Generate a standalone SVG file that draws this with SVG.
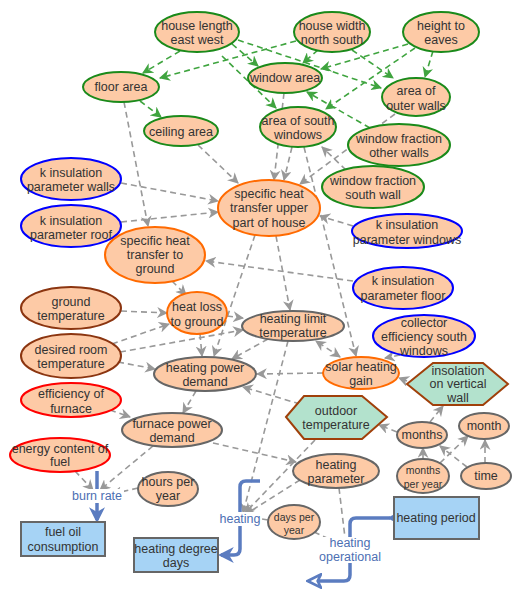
<svg xmlns="http://www.w3.org/2000/svg" width="520" height="600" viewBox="0 0 520 600">
<defs>
<style>
text{font-family:"Comic Sans MS","Liberation Sans",sans-serif;font-size:12.5px;fill:#333;text-anchor:middle}
.sm{font-size:10.5px}
.n{fill:#fdcaa6;stroke-width:2}
.g{stroke:#1a8a1a}
.b{stroke:#0000ff}
.o{stroke:#ff6a00}
.r{stroke:#ff0000}
.br{stroke:#8b3510}
.gr{stroke:#666}
.hex{fill:#b3e2cd;stroke:#a0400a;stroke-width:2}
.st{fill:#a6d3f5;stroke:#666;stroke-width:2}
.lg{stroke:#999;stroke-width:1.6;stroke-dasharray:6 4;fill:none;marker-end:url(#ag)}
.lgr{stroke:#3fa43f;stroke-width:1.6;stroke-dasharray:6 4;fill:none;marker-end:url(#agr)}
.fl{stroke:#5b7cc0;stroke-width:3.5;fill:none}
.fll{fill:#4d6fb3}
</style>
<marker id="ag" viewBox="0 0 10 10" refX="9" refY="5" markerWidth="11" markerHeight="11" markerUnits="userSpaceOnUse" orient="auto-start-reverse"><path d="M0,0 L10,5 L0,10 L3,5 z" fill="#999"/></marker>
<marker id="agr" viewBox="0 0 10 10" refX="9" refY="5" markerWidth="11" markerHeight="11" markerUnits="userSpaceOnUse" orient="auto"><path d="M0,0 L10,5 L0,10 L3,5 z" fill="#3fa43f"/></marker>
<marker id="af" viewBox="0 0 10 10" refX="8" refY="5" markerWidth="16" markerHeight="16" markerUnits="userSpaceOnUse" orient="auto"><path d="M0,0 L10,5 L0,10 L3,5 z" fill="#5b7cc0"/></marker>
<marker id="afo" viewBox="0 0 12 12" refX="10" refY="6" markerWidth="16" markerHeight="16" markerUnits="userSpaceOnUse" orient="auto"><path d="M1,1 L11,6 L1,11 L3.5,6 z" fill="#fff" stroke="#5b7cc0" stroke-width="2"/></marker>
</defs>
<rect width="520" height="600" fill="#fff"/>

<g id="connectors">
<line class="lgr" x1="180" y1="51" x2="143" y2="73"/>
<line class="lgr" x1="232" y1="44" x2="258" y2="66"/>
<line class="lgr" x1="222" y1="56" x2="276" y2="108"/>
<line class="lgr" x1="238" y1="40" x2="381" y2="88"/>
<line class="lgr" x1="296" y1="41" x2="160" y2="78"/>
<line class="lgr" x1="318" y1="50" x2="303" y2="63"/>
<line class="lgr" x1="352" y1="50" x2="393" y2="78"/>
<line class="lgr" x1="408" y1="44" x2="321" y2="69"/>
<line class="lgr" x1="433" y1="51" x2="425" y2="77"/>
<line class="lgr" x1="415" y1="48" x2="326" y2="109"/>
<line class="lgr" x1="140" y1="101" x2="161" y2="117"/>
<line class="lgr" x1="370" y1="128" x2="307" y2="92"/>

<line class="lg" x1="124" y1="102" x2="148" y2="226"/>
<line class="lg" x1="198" y1="145" x2="238" y2="183"/>
<line class="lg" x1="121" y1="183" x2="218" y2="201"/>
<line class="lg" x1="121" y1="222" x2="218" y2="212"/>
<line class="lg" x1="284" y1="93" x2="274" y2="180"/>
<line class="lg" x1="292" y1="147" x2="284" y2="180"/>
<line class="lg" x1="395" y1="114" x2="300" y2="184"/>
<line class="lg" x1="346" y1="170" x2="322" y2="147"/>
<line class="lg" x1="304" y1="147" x2="356" y2="356"/>
<line class="lg" x1="353" y1="226" x2="320" y2="216"/>
<line class="lg" x1="353" y1="281" x2="206" y2="261"/>
<line class="lg" x1="276" y1="236" x2="290" y2="310"/>
<line class="lg" x1="255" y1="235" x2="214" y2="356"/>
<line class="lg" x1="172" y1="281" x2="186" y2="295"/>
<line class="lg" x1="121" y1="311" x2="167" y2="313"/>
<line class="lg" x1="112" y1="344" x2="169" y2="324"/>
<line class="lg" x1="120" y1="352" x2="243" y2="330"/>
<line class="lg" x1="118" y1="362" x2="155" y2="369"/>
<line class="lg" x1="227" y1="316" x2="243" y2="318"/>
<line class="lg" x1="200" y1="334" x2="202" y2="356"/>
<line class="lg" x1="268" y1="339" x2="232" y2="359"/>
<line class="lg" x1="340" y1="357" x2="316" y2="341" style="marker-start:url(#ag)"/>
<line class="lg" x1="323" y1="373" x2="257" y2="374"/>
<line class="lg" x1="400" y1="355" x2="385" y2="358"/>
<line class="lg" x1="407" y1="381" x2="399" y2="378"/>
<line class="lg" x1="300" y1="404" x2="243" y2="387"/>
<line class="lg" x1="196" y1="391" x2="183" y2="413"/>
<line class="lg" x1="110" y1="410" x2="130" y2="417"/>
<line class="lg" x1="213" y1="443" x2="296" y2="462"/>
<line class="lg" x1="153" y1="446" x2="100" y2="490"/>
<line class="lg" x1="75" y1="471" x2="93" y2="490"/>
<line class="lg" x1="138" y1="488" x2="112" y2="494"/>
<line class="lg" x1="288" y1="341" x2="243" y2="513"/>
<line class="lg" x1="315" y1="440" x2="245" y2="513"/>
<line class="lg" x1="300" y1="480" x2="246" y2="514"/>
<line class="lg" x1="268" y1="520" x2="250" y2="517"/>
<line class="lg" x1="339" y1="488" x2="346" y2="546"/>
<line class="lg" x1="314" y1="532" x2="344" y2="546"/>
<line class="lg" x1="397" y1="432" x2="379" y2="425"/>
<line class="lg" x1="430" y1="422" x2="443" y2="406"/>
<line class="lg" x1="423" y1="459" x2="423" y2="448"/>
<line class="lg" x1="440" y1="463" x2="468" y2="436"/>
<line class="lg" x1="467" y1="467" x2="440" y2="446"/>
<line class="lg" x1="485" y1="463" x2="485" y2="440"/>

<path class="fl" d="M97,471 V520" marker-end="url(#af)"/>
<path class="fl" d="M260,481 H246 Q240,481 240,487 V549 Q240,555 234,555 H221" marker-end="url(#af)"/>
<path class="fl" d="M390,518 H356 Q350,518 350,524 V575 Q350,581 344,581 H309" marker-start="url(#af)" marker-end="url(#afo)"/>
</g>

<g id="flow_labels">
<rect x="70" y="489" width="54" height="14" fill="#fff"/>
<text class="fll" x="97" y="500">burn rate</text>
<rect x="218" y="512" width="44" height="14" fill="#fff"/>
<text class="fll" x="240" y="523">heating</text>
<rect x="318" y="537" width="64" height="26" fill="#fff"/>
<text class="fll" x="350" y="547">heating</text>
<text class="fll" x="350" y="561">operational</text>
</g>

<g id="house_length"><ellipse class="n g" cx="197" cy="32" rx="42" ry="20"/><text x="197" y="30">house length</text><text x="197" y="44">east west</text></g>
<g id="house_width"><ellipse class="n g" cx="332" cy="32" rx="38" ry="20"/><text x="332" y="30">house width</text><text x="332" y="44">north south</text></g>
<g id="height_to_eaves"><ellipse class="n g" cx="441" cy="32" rx="38" ry="20"/><text x="441" y="30">height to</text><text x="441" y="44">eaves</text></g>
<g id="floor_area"><ellipse class="n g" cx="121" cy="87" rx="38" ry="15"/><text x="121" y="91">floor area</text></g>
<g id="window_area"><ellipse class="n g" cx="285" cy="78" rx="37" ry="15"/><text x="285" y="82">window area</text></g>
<g id="area_outer_walls"><ellipse class="n g" cx="416" cy="97" rx="34" ry="19"/><text x="416" y="95">area of</text><text x="416" y="110">outer walls</text></g>
<g id="ceiling_area"><ellipse class="n g" cx="181" cy="131" rx="37" ry="15"/><text x="181" y="136">ceiling area</text></g>
<g id="area_south_windows"><ellipse class="n g" cx="298" cy="127" rx="38" ry="20"/><text x="298" y="125">area of south</text><text x="298" y="139">windows</text></g>
<g id="window_fraction_other"><ellipse class="n g" cx="399" cy="145" rx="51" ry="21"/><text x="399" y="143">window fraction</text><text x="399" y="157">other walls</text></g>
<g id="window_fraction_south"><ellipse class="n g" cx="373" cy="187" rx="51" ry="21"/><text x="373" y="185">window fraction</text><text x="373" y="199">south wall</text></g>
<g id="k_walls"><ellipse class="n b" cx="71" cy="179" rx="50" ry="21"/><text x="71" y="177">k insulation</text><text x="71" y="191">parameter walls</text></g>
<g id="k_roof"><ellipse class="n b" cx="71" cy="226" rx="50" ry="21"/><text x="71" y="225">k insulation</text><text x="71" y="239">parameter roof</text></g>
<g id="sht_upper"><ellipse class="n o" cx="269" cy="208" rx="51" ry="28"/><text x="269" y="198">specific heat</text><text x="269" y="212">transfer upper</text><text x="269" y="227">part of house</text></g>
<g id="k_windows"><ellipse class="n b" cx="407" cy="231" rx="55" ry="17"/><text x="407" y="229">k insulation</text><text x="407" y="244">parameter windows</text></g>
<g id="sht_ground"><ellipse class="n o" cx="155" cy="255" rx="50" ry="28"/><text x="155" y="245">specific heat</text><text x="155" y="259">transfer to</text><text x="155" y="273">ground</text></g>
<g id="k_floor"><ellipse class="n b" cx="403" cy="288" rx="50" ry="21"/><text x="403" y="285">k insulation</text><text x="403" y="300">parameter floor</text></g>
<g id="ground_temperature"><ellipse class="n br" cx="71" cy="308" rx="50" ry="21"/><text x="71" y="306">ground</text><text x="71" y="320">temperature</text></g>
<g id="heat_loss_ground"><ellipse class="n o" cx="197" cy="313" rx="30" ry="21"/><text x="197" y="311">heat loss</text><text x="197" y="326">to ground</text></g>
<g id="heating_limit"><ellipse class="n gr" cx="293" cy="326" rx="51" ry="15"/><text x="293" y="323">heating limit</text><text x="293" y="337">temperature</text></g>
<g id="collector_efficiency"><ellipse class="n b" cx="424" cy="336" rx="51" ry="21"/><text x="424" y="327">collector</text><text x="424" y="341">efficiency south</text><text x="424" y="355">windows</text></g>
<g id="desired_room"><ellipse class="n br" cx="71" cy="356" rx="50" ry="22"/><text x="71" y="354">desired room</text><text x="71" y="368">temperature</text></g>
<g id="heating_power"><ellipse class="n gr" cx="205" cy="374" rx="51" ry="17"/><text x="205" y="372">heating power</text><text x="205" y="386">demand</text></g>
<g id="solar_gain"><ellipse class="n o" cx="361" cy="373" rx="38" ry="16"/><text x="361" y="371">solar heating</text><text x="361" y="385">gain</text></g>
<g id="insolation"><polygon class="hex" points="407,384 433,363 483,363 508,384 483,405 433,405"/><text x="458" y="375">insolation</text><text x="458" y="388">on vertical</text><text x="458" y="402">wall</text></g>
<g id="efficiency_furnace"><ellipse class="n r" cx="71" cy="400" rx="50" ry="17"/><text x="71" y="398">efficiency of</text><text x="71" y="413">furnace</text></g>
<g id="furnace_power"><ellipse class="n gr" cx="172" cy="430" rx="50" ry="17"/><text x="172" y="428">furnace power</text><text x="172" y="442">demand</text></g>
<g id="outdoor_temperature"><polygon class="hex" points="286,417 304,396 362,396 387,417 362,439 304,439"/><text x="336" y="415">outdoor</text><text x="336" y="429">temperature</text></g>
<g id="months"><ellipse class="n gr" cx="422" cy="435" rx="25" ry="13"/><text x="422" y="439">months</text></g>
<g id="month"><ellipse class="n gr" cx="484" cy="426" rx="25" ry="13"/><text x="484" y="430">month</text></g>
<g id="energy_content"><ellipse class="n r" cx="60" cy="455" rx="50" ry="17"/><text x="60" y="453">energy content of</text><text x="60" y="466">fuel</text></g>
<g id="heating_parameter"><ellipse class="n gr" cx="336" cy="471" rx="43" ry="17"/><text x="336" y="469">heating</text><text x="336" y="483">parameter</text></g>
<g id="months_per_year"><ellipse class="n gr" cx="423" cy="476" rx="26" ry="17"/><text class="sm" x="423" y="474">months</text><text class="sm" x="423" y="488">per year</text></g>
<g id="time"><ellipse class="n gr" cx="486" cy="476" rx="25" ry="13"/><text x="486" y="480">time</text></g>
<g id="hours_per_year"><ellipse class="n gr" cx="168" cy="489" rx="30" ry="17"/><text x="168" y="486">hours per</text><text x="168" y="500">year</text></g>
<g id="days_per_year"><ellipse class="n gr" cx="294" cy="522" rx="26" ry="17"/><text class="sm" x="294" y="521">days per</text><text class="sm" x="294" y="534">year</text></g>
<g id="fuel_oil_consumption"><rect class="st" x="21" y="522" width="84" height="34"/><text x="63" y="536">fuel oil</text><text x="63" y="551">consumption</text></g>
<g id="heating_degree_days"><rect class="st" x="134" y="538" width="84" height="34"/><text x="176" y="553">heating degree</text><text x="176" y="567">days</text></g>
<g id="heating_period"><rect class="st" x="394" y="497" width="85" height="42"/><text x="436" y="522">heating period</text></g>
</svg>
